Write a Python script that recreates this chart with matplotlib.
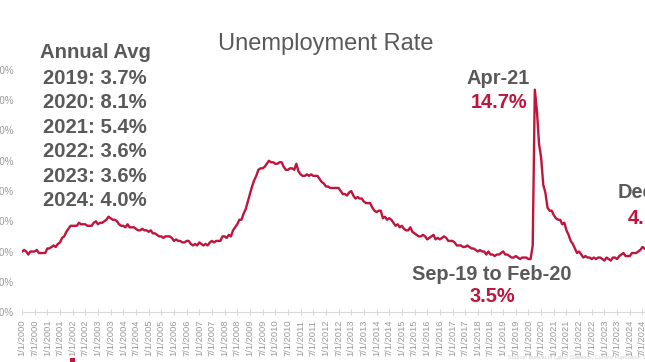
# -*- coding: utf-8 -*-
"""
Taxa de desemprego mensal (2000-2024) com anotacoes de medias anuais,
pico de abril e minimo pre-pandemia.
"""
import numpy as np
import matplotlib
matplotlib.use("Agg")
import matplotlib.pyplot as plt
from matplotlib.patches import Rectangle

plt.rcParams["font.family"] = ["Liberation Sans", "DejaVu Sans"]

# ---------------------------------------------------------------------------
# Dados (taxa mensal, %)
# ---------------------------------------------------------------------------
rates_2000_2004 = [
    4.0, 4.1, 4.0, 3.8, 4.0, 4.0, 4.0, 4.1, 3.9, 3.9, 3.9, 3.9,
    4.2, 4.2, 4.3, 4.4, 4.3, 4.5, 4.6, 4.9, 5.0, 5.3, 5.5, 5.7,
    5.7, 5.7, 5.7, 5.9, 5.8, 5.8, 5.8, 5.7, 5.7, 5.7, 5.9, 6.0,
    5.8, 5.9, 5.9, 6.0, 6.1, 6.3, 6.2, 6.1, 6.1, 6.0, 5.8, 5.7,
    5.7, 5.6, 5.8, 5.6, 5.6, 5.6, 5.5, 5.4, 5.4, 5.5, 5.4, 5.4,
]
rates_2005_2009 = [
    5.3, 5.4, 5.2, 5.2, 5.1, 5.0, 5.0, 4.9, 5.0, 5.0, 5.0, 4.9,
    4.7, 4.8, 4.7, 4.7, 4.6, 4.6, 4.7, 4.7, 4.5, 4.4, 4.5, 4.4,
    4.6, 4.5, 4.4, 4.5, 4.4, 4.6, 4.7, 4.6, 4.7, 4.7, 4.7, 5.0,
    5.0, 4.9, 5.1, 5.0, 5.4, 5.6, 5.8, 6.1, 6.1, 6.5, 6.8, 7.3,
    7.8, 8.3, 8.7, 9.0, 9.4, 9.5, 9.5, 9.6, 9.8, 10.0, 9.9, 9.9,
]
rates_2010_2014 = [
    9.8, 9.8, 9.9, 9.9, 9.6, 9.4, 9.4, 9.5, 9.5, 9.4, 9.8, 9.3,
    9.1, 9.0, 9.0, 9.1, 9.0, 9.1, 9.0, 9.0, 9.0, 8.8, 8.6, 8.5,
    8.3, 8.3, 8.2, 8.2, 8.2, 8.2, 8.2, 8.0, 7.8, 7.8, 7.7, 7.9,
    8.0, 7.7, 7.5, 7.6, 7.5, 7.5, 7.3, 7.2, 7.2, 7.2, 6.9, 6.7,
    6.6, 6.7, 6.7, 6.2, 6.3, 6.1, 6.2, 6.1, 5.9, 5.7, 5.8, 5.6,
]
rates_2015_2019 = [
    5.7, 5.5, 5.4, 5.4, 5.6, 5.3, 5.2, 5.1, 5.0, 5.0, 5.1, 5.0,
    4.8, 4.9, 5.0, 5.1, 4.8, 4.9, 4.8, 4.9, 5.0, 4.9, 4.7, 4.7,
    4.7, 4.6, 4.4, 4.4, 4.4, 4.3, 4.3, 4.4, 4.3, 4.2, 4.2, 4.1,
    4.0, 4.1, 4.0, 4.0, 3.8, 4.0, 3.8, 3.8, 3.7, 3.8, 3.8, 3.9,
    4.0, 3.8, 3.8, 3.7, 3.6, 3.6, 3.7, 3.6, 3.5, 3.6, 3.6, 3.6,
]
rates_2020_2024 = [
    3.5, 3.5, 4.4, 14.7, 13.3, 11.1, 10.2, 8.4, 7.9, 6.9, 6.7, 6.7,
    6.4, 6.2, 6.1, 6.1, 5.8, 5.9, 5.4, 5.1, 4.7, 4.5, 4.2, 3.9,
    4.0, 3.8, 3.6, 3.7, 3.6, 3.6, 3.5, 3.6, 3.5, 3.6, 3.6, 3.5,
    3.4, 3.6, 3.5, 3.4, 3.6, 3.6, 3.5, 3.7, 3.8, 3.9, 3.7, 3.7,
    3.7, 3.9, 3.9, 3.9, 4.0, 4.1, 4.3, 4.2, 4.1, 4.1, 4.2, 4.1,
]
rates = rates_2000_2004 + rates_2005_2009 + rates_2010_2014 + rates_2015_2019 + rates_2020_2024

first_year = 2000
tick_labels = [f"{1 if m % 12 == 0 else 7}/1/{first_year + m // 12}" for m in range(0, len(rates), 6)]

y_ticks = [0, 2, 4, 6, 8, 10, 12, 14, 16]

avg_years = ["2019", "2020", "2021", "2022", "2023", "2024"]
avg_values = [3.7, 8.1, 5.4, 3.6, 3.6, 4.0]

RED = "#C0143C"
GRAY_TXT = "#595959"
GRAY_TICK = "#999999"

# ---------------------------------------------------------------------------
# Figura
# ---------------------------------------------------------------------------
W, H = 645, 362
fig = plt.figure(figsize=(W / 100, H / 100), dpi=100)
ax = fig.add_axes([22 / W, (H - 312) / H, 631 / W, 242 / H])

months = np.arange(len(rates))
ax.plot(months, rates, color=RED, linewidth=1.7, solid_joinstyle="round")

ax.set_xlim(0, len(rates) - 1)
ax.set_ylim(0, 16)
ax.set_yticks(y_ticks)
ax.set_yticklabels([f"{v:.1f}%" for v in y_ticks])
ax.set_xticks(months[::6])
ax.set_xticklabels(tick_labels, rotation=90)

for s in ["top", "right", "left"]:
    ax.spines[s].set_visible(False)
ax.spines["bottom"].set_color("#d9d9d9")
ax.tick_params(axis="y", length=0, pad=6, labelsize=7, labelcolor=GRAY_TICK)
ax.tick_params(axis="x", direction="inout", length=5, color="#d9d9d9", pad=3,
               labelsize=6.7, labelcolor=GRAY_TICK)


def px(x, y):
    return x / W, 1 - y / H


fig.text(*px(326, 44), "Unemployment Rate", fontsize=17, color=GRAY_TXT,
         ha="center", va="center")

fig.text(*px(95, 53), "Annual Avg", fontsize=14.6, fontweight="bold",
         color=GRAY_TXT, ha="center", va="center")
for i, (yr, v) in enumerate(zip(avg_years, avg_values)):
    fig.text(*px(95, 78 + i * 24.6), f"{yr}: {v:.1f}%", fontsize=14.6,
             fontweight="bold", color=GRAY_TXT, ha="center", va="center")

# pico
fig.text(*px(498, 78), "Apr-21", fontsize=14.4, fontweight="bold",
         color=GRAY_TXT, ha="center", va="center")
fig.text(*px(499, 102), f"{max(rates):.1f}%", fontsize=14.4, fontweight="bold",
         color=RED, ha="center", va="center")

# minimo pre-pandemia
fig.text(*px(492, 274), "Sep-19 to Feb-20", fontsize=14.4, fontweight="bold",
         color=GRAY_TXT, ha="center", va="center")
fig.text(*px(492, 297), "3.5%", fontsize=14.4, fontweight="bold",
         color=RED, ha="center", va="center")

# ultimo ponto (cortado na borda)
fig.text(*px(650, 193), "Dec-24", fontsize=14.4, fontweight="bold",
         color=GRAY_TXT, ha="center", va="center")
fig.text(*px(650, 218), f"{rates[-1]:.1f}%", fontsize=14.4, fontweight="bold",
         color=RED, ha="center", va="center")

fig.text(*px(508, 357), "Source: Bureau of Labor Statistics, Current Population Survey",
         fontsize=4, color="#cfcfcf", ha="left", va="center")

fig.patches.append(Rectangle((70 / W, 0), 5 / W, 4 / H, transform=fig.transFigure,
                             facecolor=RED, edgecolor="none"))

fig.savefig("out.png", dpi=100)
plt.close(fig)
